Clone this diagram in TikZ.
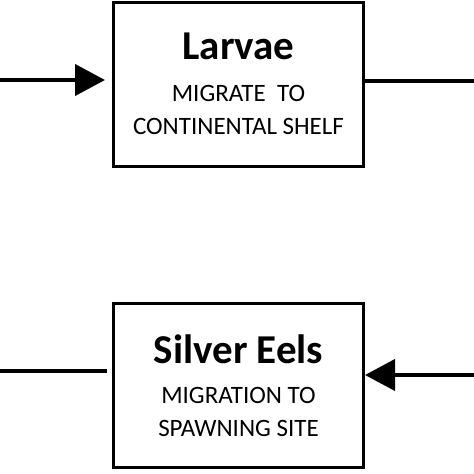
\documentclass[tikz,border=0pt]{standalone}
\usepackage{fontspec}
\setmainfont{Carlito}
\usetikzlibrary{arrows.meta,positioning}

\begin{document}
\begin{tikzpicture}[x=1pt,y=-1pt]
\tikzstyle{stage} = [rectangle, draw, line width=3pt, minimum width=250pt,
minimum height=164pt, align=center, inner sep=0pt,
font=\fontsize{25}{33}\selectfont]
\tikzstyle{line} = [draw, line width=4pt];
\tikzstyle{head} = [line, -{Triangle[length=30pt,width=31pt]}];
\useasboundingbox (0,0) rectangle (474,474);
% boxes
\node [stage] (larvae) at (238.5,84)
  {{\fontsize{41}{41}\selectfont\bfseries Larvae}\\[9pt]
   MIGRATE\ \ TO\\CONTINENTAL SHELF};
\node [stage] (eels) at (238.5,385.5)
  {{\fontsize{41}{41}\selectfont\bfseries Silver Eels}\\[7pt]
   MIGRATION TO\\SPAWNING SITE};
% free ends
\coordinate (in1) at (0,80);
\coordinate (out1) at (474,81);
\coordinate (out2) at (0,371);
\coordinate (in2) at (474,375);
\path [head, shorten >=7pt] (in1) -- (in1 -| larvae.west);
\path [line] (larvae.east |- out1) -- (out1);
\path [line] (out2) -- ([xshift=-5pt]out2 -| eels.west);
\path [head] (in2) -- (in2 -| eels.east);
\end{tikzpicture}
\end{document}
